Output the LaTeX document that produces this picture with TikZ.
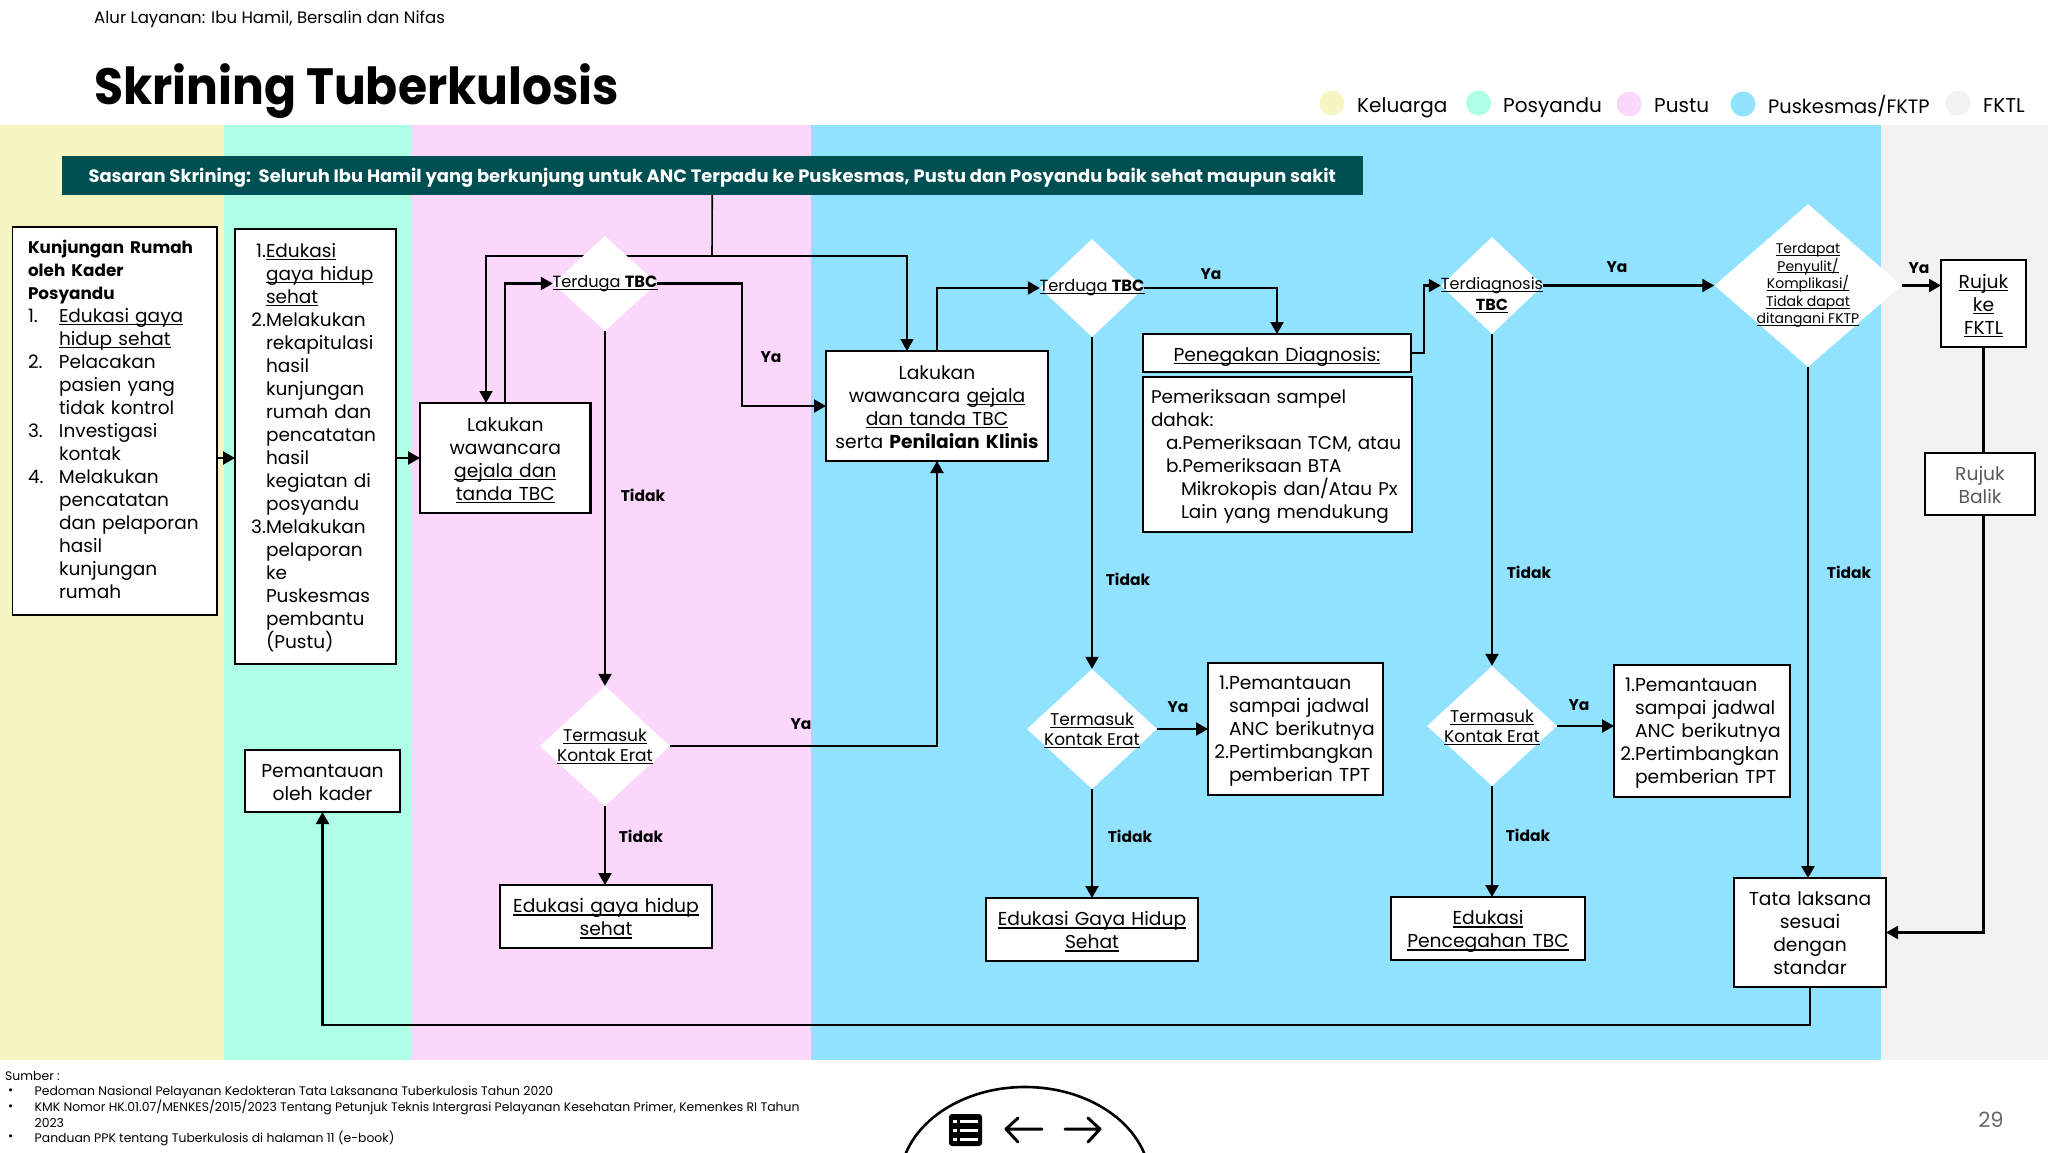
\documentclass[tikz,border=0pt]{standalone}
\usepackage{fontspec}
\setmainfont{Poppins}
\newfontfamily\titlefont[FakeStretch=0.926]{Poppins}
\usetikzlibrary{arrows.meta,shapes.geometric,calc}
\definecolor{cYel}{HTML}{F5F6C2}
\definecolor{cMint}{HTML}{AFFFE6}
\definecolor{cPink}{HTML}{FCD7FC}
\definecolor{cBlue}{HTML}{90E2FF}
\definecolor{cGray}{HTML}{F2F2F2}
\definecolor{cTeal}{HTML}{004F52}
\newsavebox\ubox
\newcommand\un[1]{\leavevmode\sbox\ubox{#1}\rlap{\rule[-0.15em]{\wd\ubox}{0.065em}}\usebox\ubox}
\newcommand\fz[2]{\fontsize{#1}{#2}\selectfont}
\newcommand\tstrh{20.5pt}
\newcommand\tstr{\rule{0pt}{\tstrh}}
\newcommand\bstr{\rule[-5pt]{0pt}{5pt}}
\tikzset{
  x=1pt,y=-1pt,
  tsh/.code={\renewcommand\tstrh{#1}},
  box/.style={draw=black,fill=white,line width=2.6pt,inner sep=0pt,outer sep=0pt,align=center,font=\fz{18.7}{23},
    execute at begin node=\tstr,execute at end node=\bstr},
  boxl/.style={box,align=left,tsh=14.5pt},
  dia/.style={diamond,fill=white,inner sep=0pt,aspect=1},
  dl/.style={inner sep=0pt,align=center,font=\fz{16.2}{21}},
  tl/.style={inner sep=0pt,align=center,font=\fz{17}{20}},
  lab/.style={inner sep=0pt,font=\fz{15.5}{18}\bfseries},
  arr/.style={draw=black,line width=2.2pt,-{Triangle[length=12pt,width=13pt]}},
  con/.style={draw=black,line width=2.2pt},
  leg/.style={inner sep=0pt,anchor=base west,font=\fz{20}{26}},
  src/.style={inner sep=0pt,anchor=west,font=\fz{12.4}{15}},
}
\begin{document}
\begin{tikzpicture}
\path[use as bounding box,fill=white] (0,0) rectangle (2048,1152);
% bands
\fill[cYel] (0,125) rectangle (224,1060);
\fill[cMint] (224,125) rectangle (411,1060);
\fill[cPink] (411,125) rectangle (811,1060);
\fill[cBlue] (811,125) rectangle (1881,1060);
\fill[cGray] (1881,125) rectangle (2048,1060);
% header
\node[inner sep=0pt,anchor=west,font=\fz{16.55}{19}] (hdr) at (94,19.5) {Alur Layanan: Ibu Hamil, Bersalin dan Nifas};
\node[inner sep=0pt,anchor=base west,font=\titlefont\fz{51}{60}\bfseries] (title) at (94,104) {Skrining Tuberkulosis};
% legend
\fill[cYel] (1332,103) circle (12.5);
\node[leg] (l1) at (1357,112) {Keluarga};
\fill[cMint] (1478.5,103) circle (12.5);
\node[leg] (l2) at (1503,112) {Posyandu};
\fill[cPink] (1629,104) circle (12.5);
\node[leg] (l3) at (1654,112) {Pustu};
\fill[cBlue] (1743,104) circle (12.5);
\node[leg,font=\fz{19.4}{26}] (l4) at (1768,113) {Puskesmas/FKTP};
\fill[cGray] (1958,103) circle (12.5);
\node[leg] (l5) at (1983,112) {FKTL};
% banner
\node[fill=cTeal,text=white,inner sep=0pt,minimum width=1301.5,minimum height=39,font=\fz{17.9}{22}\bfseries,tsh=19pt,execute at begin node=\tstr,execute at end node=\bstr] (banner) at (712.25,175.5) {Sasaran Skrining:\ \ Seluruh Ibu Hamil yang berkunjung untuk ANC Terpadu ke Puskesmas, Pustu dan Posyandu baik sehat maupun sakit};
% bus behind the first diamond
\coordinate (busJ) at (712,256);
\coordinate (busL) at (486,403);
\coordinate (busR) at (907,351);
\draw[con,line width=1.6pt] (banner.south) -- (busJ);
\draw[arr,line width=1.8pt] (busJ) -| (busL);
\draw[arr,line width=1.8pt] (busJ) -| (busR);
% boxes
\node[boxl,line width=1.6pt,minimum height=388,text width=173.5,inner xsep=15.5,font=\fz{18.5}{23}] (box1) at (114.75,421) {{\fz{16.8}{23}\bfseries Kunjungan Rumah}\\{\fz{16.8}{23}\bfseries oleh Kader}\\{\fz{16.8}{23}\bfseries Posyandu}\\
\makebox[31pt][l]{1.}\un{Edukasi gaya}\\\hspace*{31pt}\un{hidup sehat}\\
\makebox[31pt][l]{2.}Pelacakan\\\hspace*{31pt}pasien yang\\\hspace*{31pt}tidak kontrol\\
\makebox[31pt][l]{3.}Investigasi\\\hspace*{31pt}kontak\\
\makebox[31pt][l]{4.}Melakukan\\\hspace*{31pt}pencatatan\\\hspace*{31pt}dan pelaporan\\\hspace*{31pt}hasil\\\hspace*{31pt}kunjungan\\\hspace*{31pt}rumah};
\node[boxl,tsh=17pt,minimum height=435,text width=129,inner xsep=16,font=\fz{18.5}{23}] (box2) at (315.5,446.5) {\makebox[15pt][r]{1.}\un{Edukasi}\\\hspace*{15pt}\un{gaya hidup}\\\hspace*{15pt}\un{sehat}\\
\makebox[15pt][r]{2.}Melakukan\\\hspace*{15pt}rekapitulasi\\\hspace*{15pt}hasil\\\hspace*{15pt}kunjungan\\\hspace*{15pt}rumah dan\\\hspace*{15pt}pencatatan\\\hspace*{15pt}hasil\\\hspace*{15pt}kegiatan di\\\hspace*{15pt}posyandu\\
\makebox[15pt][r]{3.}Melakukan\\\hspace*{15pt}pelaporan\\\hspace*{15pt}ke\\\hspace*{15pt}Puskesmas\\\hspace*{15pt}pembantu\\\hspace*{15pt}(Pustu)};
\node[box,text width=155,minimum height=62] (pem) at (322.5,781) {Pemantauan\\oleh kader};
\node[box,text width=170.6,minimum height=110] (lak1) at (505.3,458) {Lakukan\\wawancara\\\un{gejala dan}\\\un{tanda TBC}};
\node[box,text width=222,minimum height=110] (lak2) at (937,406) {Lakukan\\wawancara \un{gejala}\\\un{dan tanda TBC}\\serta \textbf{Penilaian Klinis}};
\node[box,text width=212,minimum height=63] (edu1) at (606,916.5) {\un{Edukasi gaya hidup}\\\un{sehat}};
\node[box,tsh=22pt,text width=268,minimum height=38] (peneg) at (1277,353) {\un{Penegakan Diagnosis:}};
\node[boxl,tsh=17pt,minimum width=269,minimum height=155,text width=253,inner xsep=8,font=\fz{18.4}{23}] (perik) at (1277.5,454.5) {Pemeriksaan sampel\\dahak:\\\hspace*{15pt}\makebox[0pt][l]{a.Pemeriksaan TCM, atau}\\\hspace*{15pt}b.Pemeriksaan BTA\\\hspace*{30pt}Mikrokopis dan/Atau Px\\\hspace*{30pt}Lain yang mendukung};
\node[boxl,tsh=18pt,minimum height=132,text width=163,inner xsep=6] (pem2) at (1295.5,729) {\makebox[15pt][r]{1.}Pemantauan\\\hspace*{15pt}sampai jadwal\\\hspace*{15pt}ANC berikutnya\\\makebox[15pt][r]{2.}Pertimbangkan\\\hspace*{15pt}pemberian TPT};
\node[boxl,tsh=17pt,minimum height=132,text width=164,inner xsep=6] (pem3) at (1702,731) {\makebox[15pt][r]{1.}Pemantauan\\\hspace*{15pt}sampai jadwal\\\hspace*{15pt}ANC berikutnya\\\makebox[15pt][r]{2.}Pertimbangkan\\\hspace*{15pt}pemberian TPT};
\node[box,text width=212,minimum height=63] (edu2) at (1092,929.5) {\un{Edukasi Gaya Hidup}\\\un{Sehat}};
\node[box,text width=194,minimum height=63] (edu3) at (1488,928.5) {\un{Edukasi}\\\un{Pencegahan TBC}};
\node[box,text width=152,minimum height=109] (tata) at (1810,932.5) {Tata laksana\\sesuai\\dengan\\standar};
\node[box,text width=85,minimum height=87] (rujuk) at (1983.5,303.5) {\un{Rujuk}\\\un{ke}\\\un{FKTL}};
% diamonds
\node[dia,minimum width=104,minimum height=95] (d1) at (605,283.5) {};
\node[dl] (d1t) at (d1) {\un{Terduga \textbf{TBC}}};
\node[dia,minimum width=104,minimum height=98] (d2) at (1092,288) {};
\node[dl] (d2t) at (d2) {\un{Terduga \textbf{TBC}}};
\node[dia,minimum width=102,minimum height=97] (d3) at (1492,285.5) {};
\node[dl,font=\fz{16}{21}] (d3t) at (1492,295) {\un{Terdiagnosis}\\\un{\textbf{TBC}}};
\node[dia,minimum width=187,minimum height=163] (d4) at (1808,285.5) {};
\node[dl,font=\fz{14}{17.6}] (d4t) at (d4) {\un{Terdapat}\\\un{Penyulit/}\\\un{Komplikasi/}\\\un{Tidak dapat}\\\un{ditangani FKTP}};
\node[dia,minimum width=130,minimum height=120] (dt) at (605,746) {};
\node[tl] (dtt) at (605,746.5) {\un{Termasuk}\\\un{Kontak Erat}};
\node[dia,minimum width=130,minimum height=120] (d5) at (1092,729) {};
\node[tl] (d5t) at (1092,730.7) {\un{Termasuk}\\\un{Kontak Erat}};
\node[dia,minimum width=130,minimum height=120] (d6) at (1492,726) {};
\node[tl] (d6t) at (1492,727.7) {\un{Termasuk}\\\un{Kontak Erat}};
% connectors
\draw[arr] (box1.east |- lak1.west) -- (box2.west |- lak1.west);
\draw[arr] (box2.east |- lak1.west) -- (lak1.west);
\draw[arr] (lak1.north) |- (d1.west);
\coordinate (j1) at (742,406);
\draw[arr] (d1.east) -| (j1) -- (lak2.west);
\draw[arr] (d1.south) -- (dt.north);
\draw[arr] (dt.east) -| (lak2.south);
\draw[arr] (dt.south) -- (dt.south |- edu1.north);
\draw[arr] (lak2.north) |- (d2.west);
\draw[arr] (d2.east) -| (peneg.north);
\draw[arr] (d2.south) -- (d5.north);
\draw[arr] (d5.east) -- (d5.east -| pem2.west);
\draw[arr] (d5.south) -- (d5.south |- edu2.north);
\draw[arr] (peneg.east) -- ++(13,0) |- (d3.west);
\draw[arr] (d3.east) -- (d4.west);
\draw[arr] (d3.south) -- (d6.north);
\draw[arr] (d6.east) -- (d6.east -| pem3.west);
\draw[arr] (d6.south) -- (d6.south |- edu3.north);
\draw[arr] (d4.east) -- (d4.east -| rujuk.west);
\draw[arr] (d4.south) -- (d4.south |- tata.north);
\draw[arr] (rujuk.south) |- (tata.east);
\coordinate (ret) at (322.5,1025);
\draw[arr] (tata.south) |- (ret) -- (pem.south);
\node[box,line width=2pt,text width=109.5,minimum height=62,text=black!65] (balik) at (1980,484) {Rujuk\\Balik};
% labels
\node[lab] (y1) at (771,357) {Ya};
\node[lab] (t1) at (643,495) {Tidak};
\node[lab] (y2) at (801,724) {Ya};
\node[lab] (t2) at (641,836) {Tidak};
\node[lab] (y3) at (1211,274) {Ya};
\node[lab] (t3) at (1128,579) {Tidak};
\node[lab] (y4) at (1178,707) {Ya};
\node[lab] (t4) at (1130,836) {Tidak};
\node[lab] (y5) at (1617,267) {Ya};
\node[lab] (t5) at (1529,572) {Tidak};
\node[lab] (y6) at (1579,705) {Ya};
\node[lab] (t6) at (1528,835) {Tidak};
\node[lab] (y7) at (1919,268) {Ya};
\node[lab] (t7) at (1849,572) {Tidak};
% sources
\node[src] (s0) at (5,1076) {Sumber :};
\node[src] (b1) at (8,1092) {•};
\node[src] (s1) at (34.5,1092) {Pedoman Nasional Pelayanan Kedokteran Tata Laksanana Tuberkulosis Tahun 2020};
\node[src] (b2) at (8,1107.5) {•};
\node[src] (s2) at (34.5,1107.5) {KMK Nomor HK.01.07/MENKES/2015/2023 Tentang Petunjuk Teknis Intergrasi Pelayanan Kesehatan Primer, Kemenkes RI Tahun};
\node[src] (s3) at (34.5,1123) {2023};
\node[src] (b3) at (8,1138) {•};
\node[src] (s4) at (34.5,1138) {Panduan PPK tentang Tuberkulosis di halaman 11 (e-book)};
\node[inner sep=0pt,text=black!60,font=\fz{21}{24}] (pg) at (1991,1120) {29};
% navigation
\begin{scope}
\clip (0,0) rectangle (2048,1152);
\draw[line width=2.6pt,fill=white] (1025,1182) ellipse [x radius=125,y radius=95];
\end{scope}
\fill[black,rounded corners=3pt] (949,1114) rectangle (982,1146);
\foreach \yy in {1121,1130,1139}{
  \fill[white] (953,\yy-1.5) rectangle (957,\yy+1.5);
  \fill[white] (960,\yy-1.5) rectangle (978,\yy+1.5);
}
\draw[line width=3pt,line cap=round,line join=round] (1042,1129) -- (1006,1129) (1018,1118) -- (1006,1129) -- (1018,1142);
\draw[line width=3pt,line cap=round,line join=round] (1065,1129) -- (1100,1129) (1088,1118) -- (1100,1129) -- (1088,1142);
\end{tikzpicture}
\end{document}
